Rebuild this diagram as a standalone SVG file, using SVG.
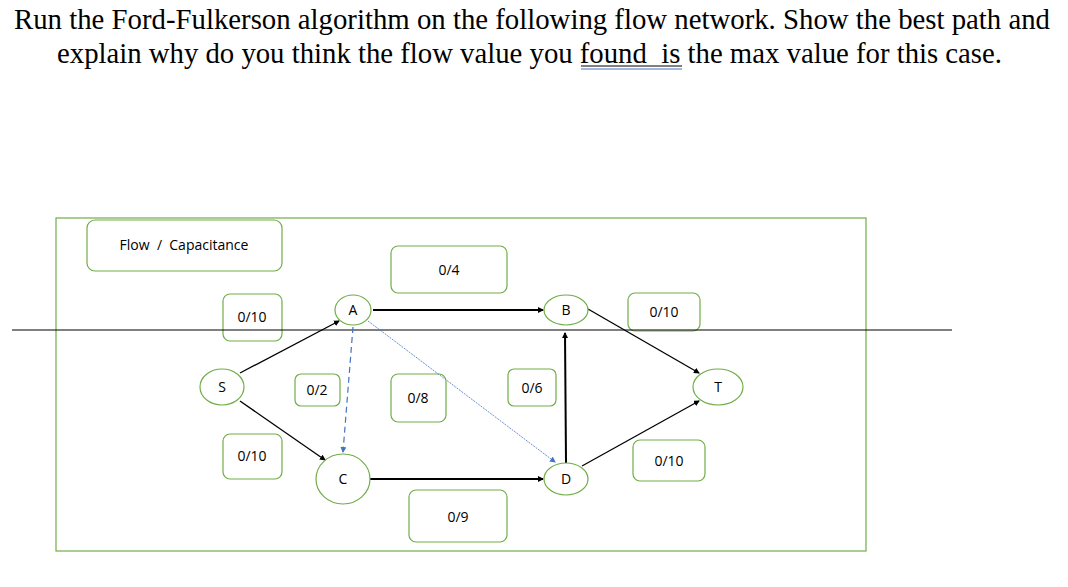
<svg xmlns="http://www.w3.org/2000/svg" width="1068" height="587" viewBox="0 0 1068 587">
<style>
.t{font-family:"Liberation Serif",serif;font-size:28.5px;fill:#000}
.n{fill:#fff;stroke:#70ad47;stroke-width:1.2}
.l{font-family:"Open Sans","DejaVu Sans",sans-serif;font-size:14px;fill:#000;text-anchor:middle}
.e{stroke:#000;stroke-width:1.3;fill:none;marker-end:url(#a)}
.e2{stroke:#000;stroke-width:2;fill:none;marker-end:url(#a)}
</style>
<defs>
<marker id="a" markerWidth="6" markerHeight="6" refX="5" refY="3" orient="auto" markerUnits="userSpaceOnUse"><path d="M0,0L6,3L0,6z" fill="#000"/></marker>
<marker id="b" markerWidth="6" markerHeight="6" refX="5" refY="3" orient="auto" markerUnits="userSpaceOnUse"><path d="M0,0L6,3L0,6z" fill="#4472c4"/></marker>
</defs>
<rect width="1068" height="587" fill="#fff"/>
<text class="t" x="14" y="29" textLength="1036" lengthAdjust="spacingAndGlyphs">Run the Ford-Fulkerson algorithm on the following flow network. Show the best path and</text>
<text class="t" x="57" y="63" xml:space="preserve" textLength="945" lengthAdjust="spacingAndGlyphs">explain why do you think the flow value you found  is the max value for this case.</text>
<line x1="581" y1="66" x2="682" y2="66" stroke="#000" stroke-width="1"/>
<line x1="581" y1="69" x2="682" y2="69" stroke="#4472c4" stroke-width="1"/>
<rect x="56" y="218" width="810" height="333" fill="none" stroke="#70ad47" stroke-width="1.2"/>
<g id="legend"><rect class="n" x="87" y="220" width="195" height="51" rx="8"/><text class="l" x="184" y="250" xml:space="preserve">Flow  /  Capacitance</text></g>
<g id="labels">
<rect class="n" x="223" y="294" width="59" height="47" rx="7"/><text class="l" x="252" y="322">0/10</text>
<rect class="n" x="223" y="434" width="59" height="45" rx="7"/><text class="l" x="252" y="461">0/10</text>
<rect class="n" x="295" y="374" width="45" height="32" rx="6"/><text class="l" x="317" y="395">0/2</text>
<rect class="n" x="391" y="374" width="55" height="48" rx="7"/><text class="l" x="418" y="403">0/8</text>
<rect class="n" x="508" y="369" width="48" height="37" rx="6"/><text class="l" x="532" y="393">0/6</text>
<rect class="n" x="391" y="246" width="116" height="47" rx="7"/><text class="l" x="449" y="275">0/4</text>
<rect class="n" x="628" y="293" width="72" height="38" rx="7"/><text class="l" x="664" y="317">0/10</text>
<rect class="n" x="633" y="440" width="72" height="41" rx="7"/><text class="l" x="669" y="466">0/10</text>
<rect class="n" x="409" y="490" width="98" height="52" rx="7"/><text class="l" x="458" y="522">0/9</text>
</g>
<line x1="12" y1="330" x2="952" y2="330" stroke="#000" stroke-width="1"/>
<g id="connectors">
<line class="e" x1="240" y1="373" x2="339" y2="321"/>
<line class="e" x1="240" y1="401" x2="325" y2="460"/>
<line class="e2" x1="373" y1="310" x2="543" y2="310"/>
<line class="e2" x1="370" y1="479" x2="543" y2="479"/>
<line class="e2" x1="566" y1="463" x2="565" y2="333"/>
<line class="e" x1="588" y1="309" x2="699" y2="373"/>
<line class="e" x1="582" y1="466" x2="699" y2="401"/>
<line x1="353" y1="327" x2="343" y2="452" stroke="#4472c4" stroke-width="1.2" stroke-dasharray="6,4" marker-end="url(#b)"/>
<line x1="368" y1="321" x2="555" y2="462" stroke="#4472c4" stroke-width="0.8" stroke-dasharray="2,1" marker-end="url(#b)"/>
</g>
<g id="S"><ellipse class="n" cx="222" cy="387" rx="22" ry="18"/><text class="l" x="222" y="392">S</text></g>
<g id="A"><ellipse class="n" cx="353" cy="310" rx="18" ry="15"/><text class="l" x="353" y="315">A</text></g>
<g id="B"><ellipse class="n" cx="566" cy="310" rx="22" ry="15"/><text class="l" x="566" y="315">B</text></g>
<g id="C"><ellipse class="n" cx="343" cy="479" rx="27" ry="25"/><text class="l" x="343" y="484">C</text></g>
<g id="D"><ellipse class="n" cx="566" cy="479" rx="22" ry="16"/><text class="l" x="566" y="484">D</text></g>
<g id="T"><ellipse class="n" cx="718" cy="387" rx="25" ry="18"/><text class="l" x="718" y="392">T</text></g>
</svg>
